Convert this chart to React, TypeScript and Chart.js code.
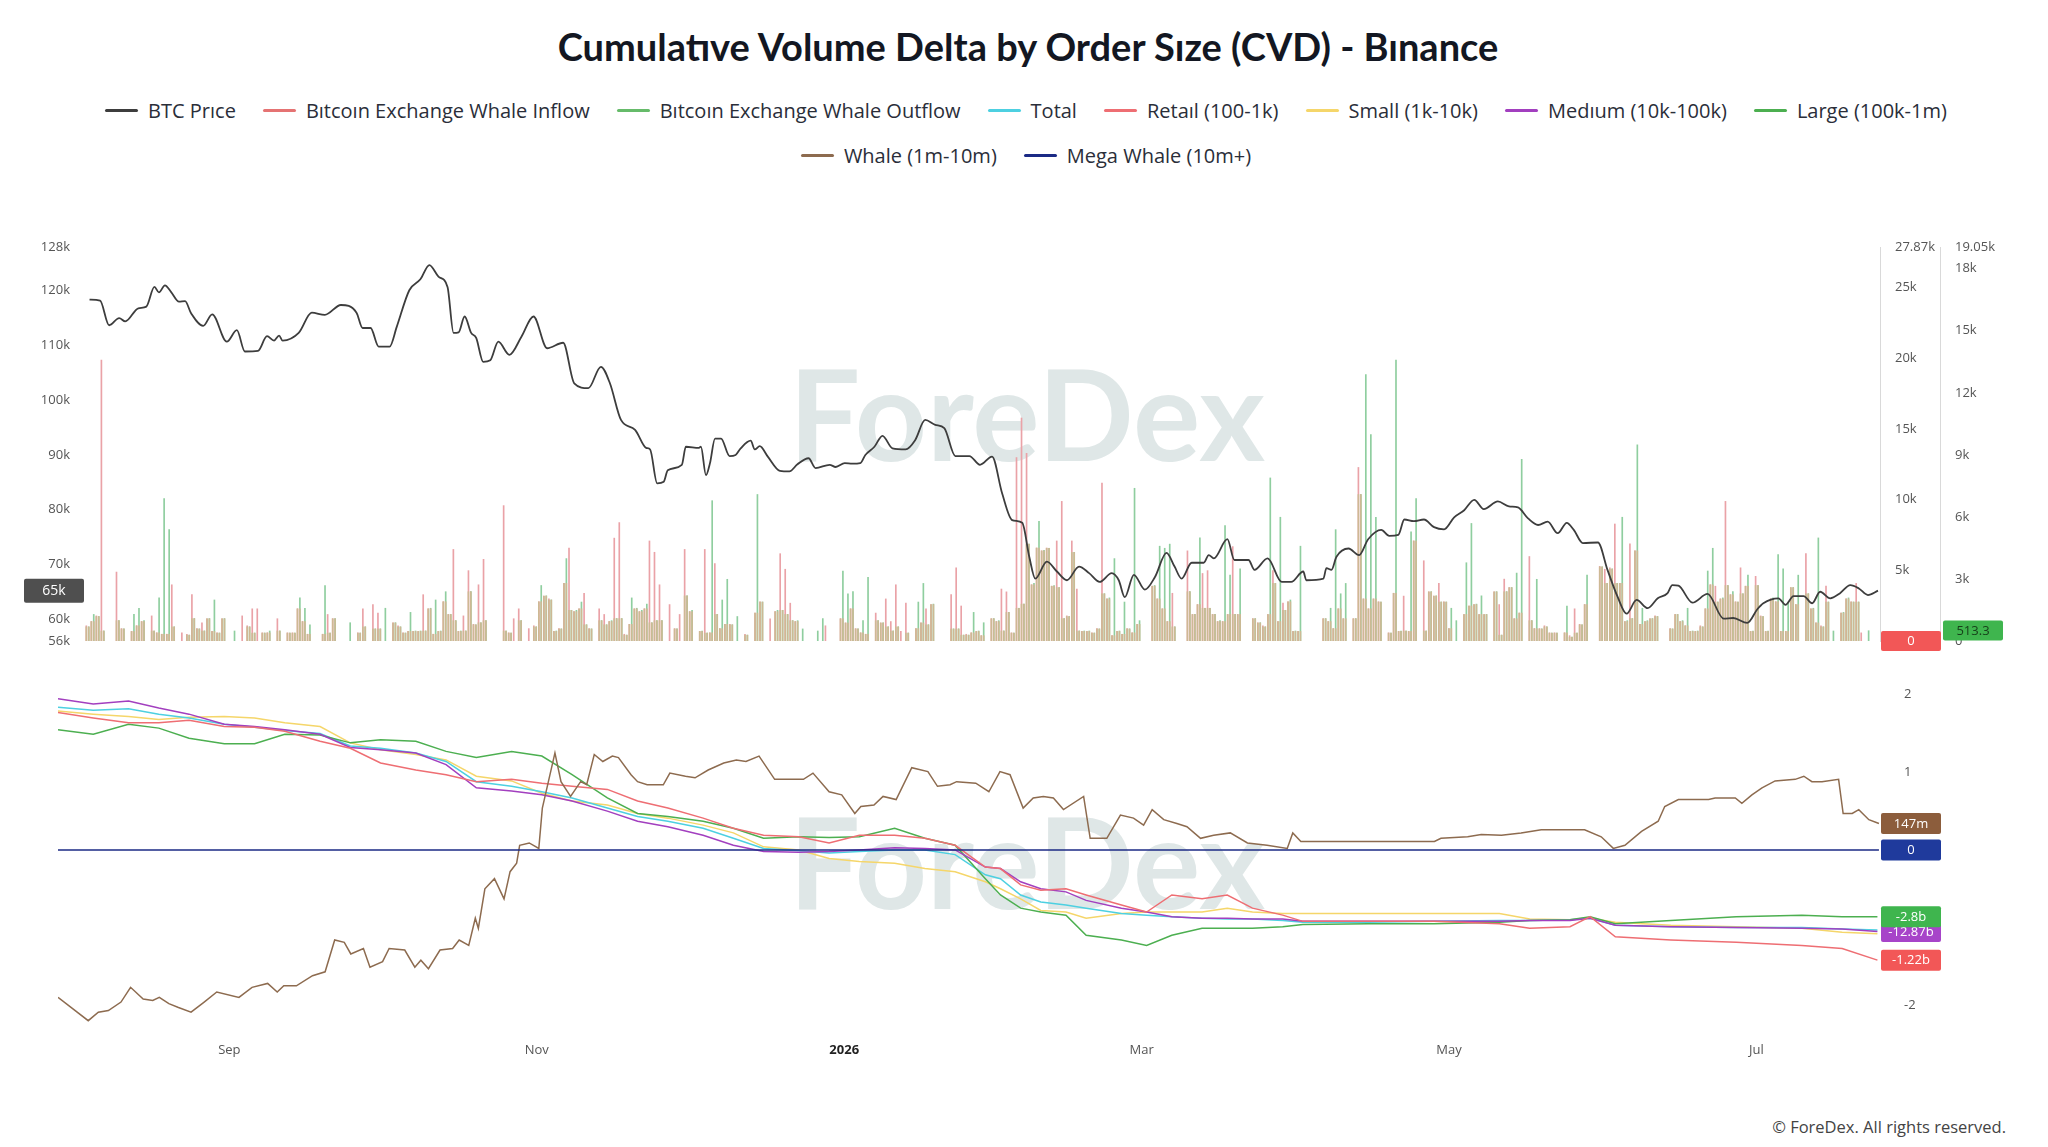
import { useEffect, useRef } from "react";
import { Chart, registerables } from "chart.js";

Chart.register(...registerables);

// BTC price (k USD), sampled by day offset from 29 Jul 2025
const priceDays = [
  5.4, 7.5, 9.3, 11.3, 12.5, 15.1, 16.7, 18.3, 19.2, 20.4,
  21.6, 23.2, 24.4, 25.6, 28.0, 29.8, 32.7, 34.7, 36.3, 38.9,
  40.7, 42.1, 43.1, 43.8, 47.0, 49.6, 52.2, 55.4, 58.5, 59.7,
  61.3, 62.9, 65.1, 66.5, 69.0, 71.2, 73.0, 74.8, 76.6, 77.8,
  78.8, 80.0, 81.3, 82.3, 83.7, 85.1, 86.7, 88.9, 91.3, 93.7,
  96.4, 99.6, 101.8, 104.6, 107.1, 108.9, 111.1, 113.9, 116.1, 116.9,
  118.3, 119.6, 120.4, 123.2, 124.0, 126.6, 127.0, 128.0, 128.8, 129.8,
  131.0, 132.7, 133.9, 134.9, 136.9, 137.7, 138.7, 140.3, 142.7, 144.6,
  146.2, 148.4, 149.8, 152.6, 153.8, 155.6, 157.1, 158.7, 159.7, 161.5,
  163.1, 165.1, 167.7, 169.6, 171.6, 173.6, 175.4, 177.6, 180.4, 182.5,
  184.9, 186.9, 188.9, 190.9, 192.3, 193.5, 195.8, 197.8, 199.8, 202.2,
  204.2, 206.3, 208.7, 210.1, 211.3, 213.1, 215.3, 217.3, 219.6, 221.2,
  222.6, 224.6, 227.0, 228.0, 229.0, 231.7, 233.1, 235.9, 237.1, 239.7,
  242.5, 244.4, 246.8, 247.4, 250.8, 251.4, 252.4, 253.4, 255.8, 257.9,
  259.7, 262.3, 263.9, 265.7, 266.9, 268.8, 270.8, 272.8, 274.8, 276.8,
  278.8, 280.8, 282.7, 285.5, 287.7, 289.5, 291.5, 293.5, 295.4, 297.4,
  299.2, 300.6, 302.4, 305.4, 307.3, 309.3, 311.1, 313.1, 315.3, 317.3,
  319.2, 320.2, 321.4, 324.2, 327.2, 330.4, 332.3, 335.1, 337.1, 338.3,
  341.3, 342.7, 344.3, 346.3, 348.0, 349.6, 351.6, 353.5, 355.6, 357.3,
  359.1, 361.1,
];
const priceK = [
  118.4, 118.2, 113.7, 115.0, 114.4, 116.8, 117.1, 120.7, 119.7, 121.0,
  119.8, 118.0, 118.1, 115.9, 113.6, 115.7, 110.7, 112.8, 108.9, 109.0,
  111.7, 110.9, 111.8, 110.9, 112.3, 116.0, 115.6, 117.4, 116.0, 113.2,
  113.2, 109.8, 109.8, 113.4, 120.1, 122.1, 124.7, 122.6, 120.7, 112.3,
  112.4, 115.3, 112.3, 111.4, 107.0, 107.3, 110.7, 108.3, 111.6, 115.3,
  109.5, 110.5, 103.1, 102.2, 106.1, 103.1, 96.4, 94.6, 91.3, 91.0,
  84.8, 85.1, 87.2, 88.2, 91.5, 91.3, 91.5, 86.3, 88.5, 93.0,
  93.0, 89.8, 90.0, 91.2, 92.6, 91.0, 91.6, 89.7, 87.1, 87.0,
  88.3, 89.4, 87.6, 88.2, 87.8, 88.5, 88.4, 88.5, 90.0, 91.5,
  93.5, 91.2, 91.0, 92.7, 96.4, 95.5, 94.9, 89.8, 89.8, 88.2,
  89.7, 83.0, 78.1, 77.6, 71.4, 67.4, 70.5, 68.7, 67.1, 69.6,
  68.4, 66.8, 68.4, 67.1, 64.0, 68.1, 65.4, 67.7, 72.1, 69.6,
  67.4, 70.3, 70.3, 71.7, 71.1, 74.6, 70.8, 70.8, 69.0, 71.1,
  66.8, 66.8, 68.7, 67.1, 67.4, 69.3, 69.0, 71.4, 72.9, 71.7,
  74.6, 76.3, 75.2, 75.4, 78.2, 77.9, 78.2, 76.8, 76.4, 78.6,
  79.9, 81.8, 80.1, 81.5, 80.6, 80.4, 78.4, 77.2, 77.8, 75.7,
  77.6, 76.3, 73.9, 74.0, 69.0, 64.1, 61.0, 63.5, 62.0, 63.8,
  64.7, 66.2, 66.1, 63.0, 64.6, 60.1, 60.2, 59.3, 61.8, 62.9,
  63.8, 62.6, 64.2, 64.2, 62.9, 65.0, 63.8, 64.7, 66.2, 65.6,
  64.4, 65.2,
];

// daily exchange whale flows (k BTC), first bar on day 5
const BAR_START = 5;
const inflowK = [
  1.1, 1.4, 1.8, 19.9, 0, 0, 4.9, 0.9, 0, 0.7,
  1.1, 1.4, 0, 1.8, 0.6, 0.5, 0.5, 4.0, 0, 0.6,
  0.5, 3.3, 0.9, 1.3, 1.6, 0.7, 0.6, 1.6, 0, 0,
  0, 1.8, 1.1, 2.3, 2.3, 0.6, 0.6, 0, 1.6, 0,
  0.6, 0.6, 2.3, 1.4, 0.5, 0, 0, 0.5, 1.9, 1.6,
  0, 0, 0, 0, 0.6, 2.3, 0, 2.6, 2.0, 0,
  0, 1.3, 1.1, 0.6, 0.7, 0.7, 0.7, 3.3, 2.3, 0.5,
  0.7, 2.8, 1.9, 6.5, 0.7, 1.8, 5.0, 1.2, 4.0, 5.8,
  0, 0, 0, 9.6, 0.6, 1.6, 2.3, 0, 0.9, 1.1,
  2.8, 3.2, 3.0, 0.7, 0.9, 4.1, 6.6, 2.1, 2.3, 3.4,
  0.9, 0, 2.3, 1.9, 1.4, 7.3, 8.4, 0.5, 1.2, 2.3,
  2.1, 2.3, 7.1, 6.3, 4.0, 0, 2.6, 0.9, 1.9, 6.5,
  2.1, 0, 0.7, 6.5, 0.6, 5.5, 0.9, 1.2, 1.2, 0,
  0, 0.5, 0, 2.0, 2.8, 0, 1.6, 2.1, 6.2, 5.1,
  2.7, 1.4, 0, 0, 0, 0, 0, 1.1, 0, 0,
  1.6, 1.3, 2.3, 0.9, 0.6, 0.5, 0, 2.0, 1.3, 3.0,
  1.4, 4.0, 0.7, 2.7, 0, 0.9, 1.3, 2.3, 2.6, 0,
  0, 0, 3.3, 5.2, 2.5, 0.5, 0.6, 0.7, 0.4, 0,
  1.6, 1.4, 3.7, 3.5, 0.6, 13.0, 15.8, 13.3, 4.0, 6.6,
  6.4, 6.6, 3.9, 7.1, 9.9, 1.8, 7.1, 3.7, 0.7, 0.7,
  0.6, 0.9, 11.2, 3.0, 0.4, 0.7, 0.5, 0.9, 0.6, 1.2,
  0, 0, 3.9, 3.0, 2.3, 1.4, 3.4, 0, 0, 6.4,
  1.9, 2.6, 4.8, 5.0, 1.9, 1.4, 1.4, 1.9, 6.7, 1.9,
  0, 0, 1.6, 1.3, 1.1, 1.9, 5.0, 1.4, 2.7, 2.8,
  0.7, 0.7, 0, 0, 0, 0, 1.6, 1.4, 0.9, 2.3,
  1.6, 0, 1.6, 12.3, 3.0, 2.3, 3.0, 2.8, 0, 0.6,
  3.4, 0.7, 3.2, 0.7, 7.1, 0, 5.7, 3.5, 3.2, 4.1,
  2.8, 0.9, 0, 0, 1.9, 2.5, 2.6, 1.9, 1.9, 0,
  3.5, 2.6, 4.4, 3.8, 1.6, 2.0, 0, 6.0, 0.9, 0.9,
  1.1, 0.6, 0.6, 0, 0.6, 0.4, 2.3, 1.2, 2.6, 0,
  0, 5.3, 5.1, 5.2, 8.3, 4.1, 1.4, 6.9, 6.4, 1.2,
  1.4, 1.6, 1.8, 0, 0, 0.9, 1.9, 1.4, 1.1, 0.7,
  0.7, 1.1, 2.3, 4.0, 3.9, 3.0, 9.9, 3.3, 2.8, 5.2,
  3.9, 0.7, 4.6, 1.8, 0.7, 3.0, 2.8, 0.7, 0.7, 3.8,
  2.6, 0, 6.2, 2.3, 1.3, 1.1, 3.9, 0, 0, 2.0,
  3.0, 2.8, 4.1, 0.6, 0,
];
const outflowK = [
  0.7, 1.3, 1.2, 0.5, 0, 0, 1.0, 0.6, 0, 1.3,
  1.6, 1.0, 0, 0.5, 2.1, 6.9, 5.4, 0.7, 0, 0,
  0.3, 1.1, 0.6, 0.5, 1.1, 2.0, 0.4, 1.1, 0, 0.5,
  0, 0, 0.7, 0.4, 0, 0.4, 0.5, 0, 0.5, 0,
  0.4, 0.4, 2.1, 1.6, 0.8, 0, 0, 2.7, 0.4, 1.1,
  0, 0, 0.9, 0, 0.4, 0.7, 0, 0.6, 0.6, 1.6,
  0, 0.9, 0.7, 0.4, 1.4, 0.5, 0.5, 0.5, 1.6, 2.0,
  0.5, 2.4, 1.3, 1.0, 0.5, 0.5, 2.4, 0.8, 0.9, 1.0,
  0, 0, 0, 0.5, 0.4, 0, 1.0, 0, 0, 0.7,
  2.7, 2.2, 2.0, 0.5, 0.6, 4.0, 1.5, 1.5, 1.9, 0.8,
  0.6, 0, 1.0, 0.8, 1.0, 1.1, 1.1, 0.3, 2.1, 1.6,
  1.5, 1.8, 0.9, 1.0, 1.0, 0, 0, 0.6, 0, 2.2,
  1.5, 0, 0.5, 0.4, 6.8, 1.3, 2.0, 3.0, 0.8, 1.2,
  0, 0.3, 0, 7.1, 1.9, 0, 0, 1.5, 1.5, 1.3,
  1.0, 1.0, 0.6, 0, 0, 0.5, 1.1, 0, 0, 0,
  3.4, 2.3, 2.4, 0.6, 1.0, 3.1, 0, 1.0, 0.9, 0.7,
  0.5, 0.7, 0, 0.4, 0, 1.9, 2.8, 0.8, 1.8, 0,
  0, 0, 0.6, 0.6, 0.3, 0.3, 1.4, 0.5, 0.9, 0,
  1.1, 1.0, 0.5, 1.4, 0.4, 1.6, 1.8, 4.7, 2.8, 5.8,
  4.4, 4.5, 2.7, 2.6, 1.1, 1.2, 4.3, 0.5, 0.5, 0.5,
  0.4, 0.6, 2.3, 2.1, 4.0, 0.5, 1.9, 0.6, 7.4, 1.0,
  0, 0, 2.7, 4.6, 4.5, 4.7, 0.7, 0, 0, 2.4,
  1.3, 5.0, 1.6, 1.6, 1.3, 1.0, 5.6, 3.2, 1.3, 3.5,
  0, 0, 1.1, 0.9, 0.7, 7.9, 2.8, 6.0, 1.5, 2.0,
  0.5, 4.6, 0, 0, 0, 0, 1.1, 1.6, 5.4, 2.3,
  2.8, 0, 1.1, 7.1, 12.9, 10.0, 6.0, 1.9, 0, 0.4,
  13.6, 0.5, 0.5, 5.3, 6.9, 0, 0.5, 2.4, 2.2, 1.9,
  1.9, 1.6, 1.0, 0, 3.8, 5.7, 1.8, 2.2, 1.3, 0,
  2.4, 0.3, 2.4, 2.6, 3.3, 8.8, 0, 1.0, 3.0, 0.6,
  0.7, 0.4, 0.4, 0, 1.7, 0.2, 0.4, 0.8, 3.2, 0,
  0, 3.6, 2.8, 3.5, 2.8, 6.0, 1.0, 1.1, 9.5, 1.6,
  1.0, 1.1, 1.2, 0, 0, 0.6, 1.3, 1.0, 1.6, 0.5,
  0.5, 0.7, 3.4, 4.5, 1.9, 2.1, 2.7, 2.4, 1.9, 2.3,
  3.2, 0.5, 2.7, 1.2, 0.5, 2.1, 4.2, 3.5, 1.9, 2.6,
  3.2, 0, 2.3, 1.6, 5.0, 0.7, 1.9, 0.5, 0, 1.4,
  2.1, 1.9, 1.9, 0, 0.5133,
];

// cumulative volume delta per order size (axis units)
const cvdDays = [
  0, 7, 14, 20, 26, 33, 39, 45, 52, 58,
  64, 71, 77, 83, 90, 96, 102, 109, 115, 121,
  128, 134, 140, 147, 153, 159, 166, 172, 178, 184,
  187, 191, 195, 200, 204, 211, 216, 221, 227, 232,
  237, 243, 247, 260, 273, 286, 292, 300, 304, 309,
  320, 333, 346, 354, 361,
];
const totalCvd = [
  1.84, 1.80, 1.82, 1.75, 1.70, 1.62, 1.58, 1.54, 1.50, 1.34,
  1.31, 1.25, 1.14, 0.88, 0.82, 0.75, 0.67, 0.54, 0.43, 0.37,
  0.28, 0.15, 0.02, -0.01, -0.04, -0.02, 0.0, 0.0, -0.06, -0.32,
  -0.37, -0.58, -0.67, -0.71, -0.75, -0.82, -0.84, -0.86, -0.88, -0.89,
  -0.89, -0.91, -0.93, -0.93, -0.92, -0.91, -0.91, -0.90, -0.88, -0.97,
  -0.99, -1.00, -1.00, -1.02, -1.03,
];
const retailCvd = [
  1.77, 1.70, 1.64, 1.64, 1.67, 1.59, 1.58, 1.53, 1.40, 1.31,
  1.12, 1.03, 0.97, 0.88, 0.91, 0.86, 0.82, 0.78, 0.63, 0.54,
  0.41, 0.28, 0.19, 0.17, 0.09, 0.19, 0.19, 0.15, 0.06, -0.22,
  -0.24, -0.45, -0.52, -0.50, -0.58, -0.71, -0.80, -0.58, -0.63, -0.58,
  -0.75, -0.84, -0.92, -0.92, -0.92, -0.95, -1.01, -0.99, -0.86, -1.12,
  -1.16, -1.19, -1.23, -1.27, -1.42,
];
const smallCvd = [
  1.79, 1.75, 1.72, 1.68, 1.71, 1.72, 1.70, 1.64, 1.59, 1.38,
  1.29, 1.23, 1.16, 0.95, 0.89, 0.73, 0.63, 0.58, 0.47, 0.41,
  0.32, 0.22, 0.04, 0.0, -0.11, -0.15, -0.17, -0.24, -0.28, -0.41,
  -0.50, -0.63, -0.78, -0.80, -0.88, -0.82, -0.80, -0.80, -0.80, -0.75,
  -0.80, -0.82, -0.82, -0.82, -0.82, -0.82, -0.89, -0.90, -0.88, -0.93,
  -0.97, -0.99, -1.01, -1.06, -1.08,
];
const mediumCvd = [
  1.95, 1.88, 1.92, 1.83, 1.75, 1.62, 1.59, 1.55, 1.49, 1.32,
  1.29, 1.25, 1.10, 0.80, 0.76, 0.71, 0.63, 0.50, 0.37, 0.30,
  0.19, 0.06, -0.02, -0.03, -0.02, 0.0, 0.03, 0.02, 0.0, -0.22,
  -0.24, -0.41, -0.50, -0.54, -0.65, -0.75, -0.80, -0.86, -0.88, -0.88,
  -0.89, -0.89, -0.92, -0.92, -0.92, -0.92, -0.91, -0.91, -0.88, -0.97,
  -0.99, -1.00, -1.01, -1.02, -1.05,
];
const largeCvd = [
  1.55, 1.49, 1.62, 1.57, 1.44, 1.37, 1.37, 1.49, 1.48, 1.38,
  1.42, 1.40, 1.27, 1.19, 1.27, 1.21, 0.97, 0.67, 0.47, 0.43,
  0.37, 0.28, 0.15, 0.17, 0.16, 0.17, 0.28, 0.15, 0.06, -0.37,
  -0.58, -0.75, -0.80, -0.84, -1.10, -1.16, -1.23, -1.10, -1.01, -1.01,
  -1.01, -0.99, -0.96, -0.95, -0.95, -0.93, -0.91, -0.90, -0.86, -0.95,
  -0.91, -0.86, -0.84, -0.86, -0.86,
];
const whaleDays = [
  0, 6, 8, 10, 12.5, 14.4, 16.9, 18.8, 20.1, 22,
  23.9, 26.4, 29, 31.5, 35.9, 38.5, 41.6, 43.5, 44.8, 47.3,
  50.5, 53, 54.9, 56.8, 58.1, 60.6, 61.9, 64.4, 65.7, 68.8,
  70.8, 72, 73.5, 75.8, 78.3, 79.6, 81.5, 82.8, 83.4, 84.7,
  86.6, 88.5, 89.7, 91, 91.6, 93.5, 95.4, 96.1, 98.6, 99.8,
  101.7, 103.7, 104.9, 106.4, 108.1, 110, 111.2, 113.7, 115, 116.9,
  120.1, 121.4, 124.5, 126.4, 129, 132.1, 134.6, 136.5, 139.1, 142.2,
  147.9, 149.8, 153, 155.5, 158.1, 159.3, 161.9, 163.7, 166.3, 169.4,
  172.6, 174.5, 177, 178.3, 182.1, 184.7, 186.9, 188.9, 191.5, 193.5,
  195.5, 197.5, 199.5, 203.5, 204.8, 208.1, 210.8, 213.4, 215.4, 217.1,
  219.4, 222, 224, 226.7, 229.3, 232.6, 236, 239.9, 243.9, 245,
  246.6, 253.2, 273.1, 274.4, 279.7, 282.4, 286.4, 290.3, 294.3, 302.9,
  306.2, 308.6, 310.9, 314.2, 317.5, 318.8, 321.5, 327.5, 328.8, 332.8,
  334.1, 336.1, 338.1, 340.7, 344.7, 346.4, 348, 350, 353.3, 354.2,
  356, 357.3, 359.3, 361.3,
];
const whaleCvd = [
  -1.90, -2.20, -2.09, -2.07, -1.96, -1.77, -1.92, -1.94, -1.90, -1.98,
  -2.03, -2.09, -1.96, -1.83, -1.90, -1.77, -1.72, -1.83, -1.75, -1.75,
  -1.62, -1.57, -1.16, -1.19, -1.34, -1.27, -1.51, -1.44, -1.27, -1.29,
  -1.51, -1.42, -1.53, -1.29, -1.27, -1.16, -1.23, -0.88, -1.01, -0.50,
  -0.37, -0.63, -0.28, -0.17, 0.06, 0.09, 0.02, 0.54, 1.25, 0.88,
  0.69, 0.88, 0.84, 1.23, 1.14, 1.21, 1.19, 0.97, 0.88, 0.84,
  0.84, 0.99, 0.95, 0.93, 1.03, 1.12, 1.16, 1.14, 1.21, 0.91,
  0.91, 0.99, 0.75, 0.71, 0.47, 0.56, 0.58, 0.69, 0.65, 1.06,
  1.01, 0.82, 0.84, 0.88, 0.86, 0.75, 1.01, 0.97, 0.54, 0.67,
  0.69, 0.67, 0.52, 0.69, 0.15, 0.15, 0.45, 0.41, 0.32, 0.52,
  0.39, 0.34, 0.30, 0.15, 0.19, 0.22, 0.09, 0.06, 0.02, 0.22,
  0.11, 0.11, 0.11, 0.15, 0.17, 0.20, 0.19, 0.22, 0.26, 0.26,
  0.17, 0.02, 0.06, 0.24, 0.37, 0.56, 0.65, 0.65, 0.67, 0.67,
  0.60, 0.71, 0.80, 0.89, 0.91, 0.95, 0.88, 0.88, 0.91, 0.47,
  0.47, 0.52, 0.39, 0.34,
];
const megaWhaleDays = [0, 361.3];
const megaWhaleCvd = [0, 0];

// axis ticks and labels
const priceTicks = [56, 60, 70, 80, 90, 100, 110, 120, 128];
const inflowTicks = [0, 5, 10, 15, 20, 25, 27.87];
const outflowTicks = [0, 3, 6, 9, 12, 15, 18, 19.05];
const cvdTicks = [-2, -1, 0, 1, 2];
const monthTickDays = [34, 95, 156, 215, 276, 337];
const monthTickLabels = ["Sep", "Nov", "2026", "Mar", "May", "Jul"];
const priceBadge = "65k";
const inflowBadge = "0";
const outflowBadge = "513.3";
const whaleBadge = "147m";
const megaWhaleBadge = "0";
const largeBadge = "-2.8b";
const mediumBadge = "-12.87b";
const retailBadge = "-1.22b";

const C = {
  price: "#3d3d3d",
  inflow: "#e57373",
  outflow: "#66bb6a",
  inflowBar: "#eaa2a7",
  outflowBar: "#8fce9f",
  overlap: "#cdb994",
  total: "#4dd0e1",
  retail: "#ee6e73",
  small: "#f5d66a",
  medium: "#a23fbf",
  large: "#4caf50",
  whale: "#8d6b4f",
  mega: "#1b2a85",
};

const legendRows = [
  [
    ["BTC Prıce", C.price],
    ["Bıtcoın Exchange Whale Inflow", C.inflow],
    ["Bıtcoın Exchange Whale Outflow", C.outflow],
    ["Total", C.total],
    ["Retaıl (100-1k)", C.retail],
    ["Small (1k-10k)", C.small],
    ["Medıum (10k-100k)", C.medium],
    ["Large (100k-1m)", C.large],
  ],
  [
    ["Whale (1m-10m)", C.whale],
    ["Mega Whale (10m+)", C.mega],
  ],
];

const pts = (xs: number[], ys: number[]) => xs.map((x, i) => ({ x, y: ys[i] }));
const fixTicks = (vals: number[]) => (s: any) => {
  s.ticks = vals.map((value) => ({ value }));
};
// fixed axis width, and no extra label padding pushed into the layout
const fitWidth = (w: number) => (s: any) => {
  s.width = w;
  s.paddingTop = 0;
  s.paddingBottom = 0;
};
const fmtK = (v: number) => (v === 0 ? "0" : `${v}k`);

// paints the shared lower part of inflow/outflow bars in the mixed tan colour
const overlapPlugin = {
  id: "overlap",
  afterDatasetDraw(chart: any, args: any) {
    if (args.index !== 1) return;
    const a = chart.getDatasetMeta(1).data;
    const b = chart.getDatasetMeta(2).data;
    const area = chart.chartArea;
    const ctx = chart.ctx;
    ctx.save();
    ctx.beginPath();
    ctx.rect(area.left, area.top, area.right - area.left, area.bottom - area.top);
    ctx.clip();
    ctx.fillStyle = C.overlap;
    for (let i = 0; i < a.length; i++) {
      if (!inflowK[i] || !outflowK[i]) continue;
      const top = Math.max(a[i].y, b[i].y);
      for (const el of [a[i], b[i]]) {
        ctx.fillRect(el.x - el.width / 2, top, el.width, el.base - top);
      }
    }
    ctx.restore();
  },
};

// last-value tags on the axes
const badgePlugin = {
  id: "badges",
  afterDraw(chart: any, _args: any, opts: any) {
    const ctx = chart.ctx;
    for (const b of opts.items || []) {
      const scale = chart.scales[b.scale];
      const y = scale.getPixelForValue(b.value);
      const x = scale.left + b.dx;
      ctx.save();
      ctx.fillStyle = b.color;
      ctx.beginPath();
      ctx.roundRect(x, y - b.h / 2, b.w, b.h, 2);
      ctx.fill();
      ctx.fillStyle = b.text || "#fff";
      ctx.font = `${b.size || 13}px "Open Sans", sans-serif`;
      ctx.textAlign = "center";
      ctx.textBaseline = "middle";
      ctx.fillText(b.label, x + b.w / 2, y + 0.5);
      ctx.restore();
    }
  },
};

const axisFont = { size: 13, family: '"Open Sans", sans-serif' };

function TopPanel() {
  const ref = useRef<HTMLCanvasElement>(null);
  useEffect(() => {
    if (!ref.current) return;
    const barOpts = { categoryPercentage: 0.95, barPercentage: 0.7, borderWidth: 0 };
    const chart = new Chart(ref.current, {
      type: "bar",
      data: {
        datasets: [
          {
            type: "line",
            label: "BTC Price",
            data: pts(priceDays, priceK),
            yAxisID: "y",
            borderColor: C.price,
            borderWidth: 1.8,
            pointRadius: 0,
            cubicInterpolationMode: "monotone",
          } as any,
          {
            type: "bar",
            label: "Inflow",
            data: inflowK.map((y, i) => ({ x: BAR_START + i, y })),
            yAxisID: "y1",
            backgroundColor: C.inflowBar,
            ...barOpts,
          },
          {
            type: "bar",
            label: "Outflow",
            data: outflowK.map((y, i) => ({ x: BAR_START + i, y })),
            yAxisID: "y2",
            backgroundColor: C.outflowBar,
            ...barOpts,
          },
        ],
      },
      options: {
        responsive: false,
        animation: false,
        layout: { padding: { top: 17, bottom: 14 } },
        plugins: {
          legend: { display: false },
          tooltip: { enabled: false },
          badges: {
            items: [
              { scale: "y", value: priceK[priceK.length - 1], label: priceBadge, color: "#4f4f4f", dx: 24, w: 60, h: 24, size: 14 },
              { scale: "y1", value: inflowK[inflowK.length - 1], label: inflowBadge, color: "#f25757", dx: 1, w: 60, h: 20 },
              { scale: "y2", value: outflowK[outflowK.length - 1], label: outflowBadge, color: "#3fb54e", text: "#17401a", dx: 3, w: 60, h: 20 },
            ],
          },
        } as any,
        scales: {
          x: { type: "linear", min: 4.5, max: 361.5, offset: false, display: false },
          y: {
            position: "left",
            min: 56,
            max: 128,
            afterBuildTicks: fixTicks(priceTicks),
            afterFit: fitWidth(85),
            grid: { display: false, drawTicks: false },
            border: { display: false },
            ticks: { padding: 15, color: "#555", font: axisFont, callback: (v: any) => `${v}k` },
          },
          y1: {
            position: "right",
            weight: 1,
            min: 0,
            max: 27.87,
            afterBuildTicks: fixTicks(inflowTicks),
            afterFit: fitWidth(60),
            grid: { display: false, drawTicks: false },
            border: { display: true, color: "#d9d9d9" },
            ticks: { padding: 15, color: "#555", font: axisFont, callback: (v: any) => fmtK(v) },
          },
          y2: {
            position: "right",
            weight: 2,
            min: 0,
            max: 19.05,
            afterBuildTicks: fixTicks(outflowTicks),
            afterFit: fitWidth(108),
            grid: { display: false, drawTicks: false },
            border: { display: true, color: "#d9d9d9" },
            ticks: { padding: 15, color: "#555", font: axisFont, callback: (v: any) => fmtK(v) },
          },
        } as any,
      },
      plugins: [overlapPlugin, badgePlugin],
    });
    return () => chart.destroy();
  }, []);
  return <canvas ref={ref} width={2048} height={425} style={{ position: "absolute", left: 0, top: 230 }} />;
}

function BottomPanel() {
  const ref = useRef<HTMLCanvasElement>(null);
  useEffect(() => {
    if (!ref.current) return;
    const line = (label: string, xs: number[], ys: number[], color: string, width = 1.5) => ({
      label,
      data: pts(xs, ys),
      borderColor: color,
      borderWidth: width,
      pointRadius: 0,
      tension: 0,
    });
    const chart = new Chart(ref.current, {
      type: "line",
      data: {
        datasets: [
          line("Mega Whale (10m+)", megaWhaleDays, megaWhaleCvd, C.mega, 1.6),
          line("Whale (1m-10m)", whaleDays, whaleCvd, C.whale),
          line("Retail (100-1k)", cvdDays, retailCvd, C.retail),
          line("Medium (10k-100k)", cvdDays, mediumCvd, C.medium),
          line("Large (100k-1m)", cvdDays, largeCvd, C.large),
          line("Total", cvdDays, totalCvd, C.total),
          line("Small (1k-10k)", cvdDays, smallCvd, C.small),
        ],
      },
      options: {
        responsive: false,
        animation: false,
        layout: { padding: { left: 58, top: 20 } },
        plugins: {
          legend: { display: false },
          tooltip: { enabled: false },
          badges: {
            items: [
              { scale: "y", value: whaleCvd[whaleCvd.length - 1], label: whaleBadge, color: "#8c5d3c", dx: -6, w: 60, h: 21 },
              { scale: "y", value: megaWhaleCvd[1], label: megaWhaleBadge, color: "#1f3a9c", dx: -6, w: 60, h: 21 },
              { scale: "y", value: mediumCvd[mediumCvd.length - 1], label: mediumBadge, color: "#a744c9", dx: -6, w: 60, h: 21 },
              { scale: "y", value: largeCvd[largeCvd.length - 1], label: largeBadge, color: "#3fb54e", dx: -6, w: 60, h: 21 },
              { scale: "y", value: retailCvd[retailCvd.length - 1], label: retailBadge, color: "#f25757", dx: -6, w: 60, h: 21 },
            ],
          },
        } as any,
        scales: {
          x: {
            type: "linear",
            min: 0,
            max: 362.9,
            offset: false,
            afterBuildTicks: fixTicks(monthTickDays),
            afterFit: (s: any) => { s.height = 50; },
            grid: { display: false, drawTicks: false },
            border: { display: false },
            ticks: {
              padding: 12,
              autoSkip: false,
              maxRotation: 0,
              color: (c: any) => (c.index === 2 ? "#222" : "#555"),
              font: (c: any) => ({ ...axisFont, weight: c.index === 2 ? "bold" : "normal" }),
              callback: (_v: any, i: number) => monthTickLabels[i],
            },
          },
          y: {
            position: "right",
            min: -2.32,
            max: 2.19,
            afterBuildTicks: fixTicks(cvdTicks),
            afterFit: fitWidth(161),
            grid: { display: false, drawTicks: false },
            border: { display: false },
            ticks: { padding: 17, color: "#555", font: axisFont, callback: (v: any) => String(v) },
          },
        } as any,
      },
      plugins: [badgePlugin],
    });
    return () => chart.destroy();
  }, []);
  return <canvas ref={ref} width={2048} height={420} style={{ position: "absolute", left: 0, top: 660 }} />;
}

const watermark: React.CSSProperties = {
  position: "absolute",
  left: 789,
  fontFamily: "Lato, sans-serif",
  fontWeight: 700,
  fontSize: 126,
  lineHeight: 1,
  color: "#dfe7e7",
  whiteSpace: "nowrap",
};

export default function App() {
  return (
    <div
      style={{
        position: "absolute",
        left: 0,
        top: 0,
        width: 2048,
        height: 1147,
        overflow: "hidden",
        background: "#fff",
        fontFamily: '"Open Sans", sans-serif',
      }}
    >
      <div style={{ ...watermark, top: 350 }}>ForeDex</div>
      <div style={{ ...watermark, top: 798 }}>ForeDex</div>
      <div
        style={{
          position: "absolute",
          top: 21,
          left: 4,
          width: 2048,
          textAlign: "center",
          fontFamily: "Lato, sans-serif",
          fontWeight: 700,
          fontSize: 38,
          lineHeight: "50px",
          color: "#131722",
        }}
      >
        Cumulatıve Volume Delta by Order Sıze (CVD) - Bınance
      </div>
      {legendRows.map((row, r) => (
        <div
          key={r}
          style={{
            position: "absolute",
            top: 95 + r * 45,
            left: 2,
            width: 2048,
            height: 30,
            display: "flex",
            justifyContent: "center",
            alignItems: "center",
            gap: 27,
            fontSize: 20,
            color: "#2a2e39",
          }}
        >
          {row.map(([name, color]) => (
            <div key={name} style={{ display: "flex", alignItems: "center", gap: 10 }}>
              <span style={{ width: 33, height: 3, borderRadius: 2, background: color }} />
              <span>{name}</span>
            </div>
          ))}
        </div>
      ))}
      <TopPanel />
      <BottomPanel />
      <div
        style={{
          position: "absolute",
          right: 42,
          top: 1116,
          fontSize: 16.5,
          lineHeight: "22px",
          color: "#444",
        }}
      >
        © ForeDex. All rights reserved.
      </div>
    </div>
  );
}
